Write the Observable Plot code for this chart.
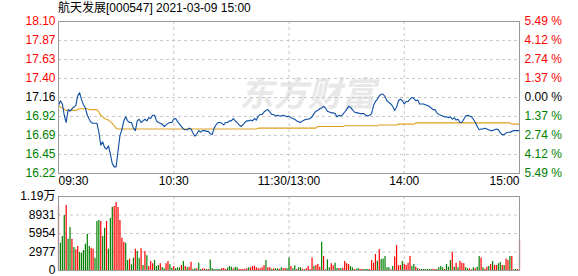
<!DOCTYPE html>
<html><head><meta charset="utf-8">
<script src="https://cdn.jsdelivr.net/npm/d3@7"></script>
<script src="https://cdn.jsdelivr.net/npm/@observablehq/plot@0.6"></script>
<style>
body{margin:0;background:#fff;width:578px;height:276px;overflow:hidden;font-family:"Liberation Sans",Arial,sans-serif}
#title{height:14px;line-height:16px;font-size:12px;padding-left:58px;font-family:"Liberation Sans","Noto Sans CJK SC",sans-serif;color:#000;white-space:pre}
svg{display:block}
</style></head><body>
<div id="title">航天发展[000547] 2021-03-09 15:00</div>
<div id="chart"></div>
<script>
const stockTitle = "航天发展[000547] 2021-03-09 15:00";
const preClose = 17.16;
const xTickLabels = ["09:30","10:30","11:30/13:00","14:00","15:00"];
const xTickMinutes = [0,60,120,180,240];
const pctTicks = [5.49,4.12,2.74,1.37,0,-1.37,-2.74,-4.12,-5.49];
const priceTickLabels = ["18.10","17.87","17.63","17.40","17.16","16.92","16.69","16.45","16.22"];
const pctTickLabels = ["5.49 %","4.12 %","2.74 %","1.37 %","0.00 %","1.37 %","2.74 %","4.12 %","5.49 %"];
const volTicks = [0,2977,5954,8931,11908];
const volTickLabels = ["0","2977","5954","8931","1.19万"];
const watermark = "东方财富";

// minute-by-minute last price (241 minutes, 09:30 .. 15:00)
const price = [
17.06,17.12,17.08,16.94,16.85,17.01,16.99,17.02,17.04,17.06,
17.18,17.22,17.13,17.07,17.03,16.94,16.89,16.85,16.84,16.84,
16.84,16.73,16.57,16.61,16.54,16.52,16.56,16.46,16.34,16.30,
16.30,16.50,16.69,16.76,16.87,16.92,16.87,16.85,16.85,16.78,
16.75,16.87,16.89,16.85,16.87,16.89,16.87,16.91,16.90,16.94,
16.94,16.87,16.85,16.84,16.83,16.80,16.82,16.84,16.85,16.85,
16.89,16.90,16.86,16.83,16.80,16.77,16.76,16.76,16.78,16.77,
16.72,16.68,16.71,16.75,16.73,16.75,16.75,16.74,16.74,16.71,
16.70,16.78,16.82,16.85,16.85,16.84,16.82,16.85,16.85,16.87,
16.87,16.90,16.87,16.85,16.82,16.80,16.82,16.85,16.87,16.87,
16.88,16.87,16.90,16.88,16.93,16.95,16.95,16.98,17.00,17.01,
16.98,16.95,16.95,16.93,16.94,16.93,16.93,16.94,16.93,16.92,
16.93,16.91,16.90,16.89,16.87,16.86,16.85,16.87,16.88,16.89,
16.89,16.90,16.92,16.96,16.99,17.00,17.02,17.03,17.05,17.03,
16.99,16.98,16.97,16.97,16.96,16.92,16.94,16.93,16.95,16.98,
17.01,17.05,17.04,17.01,16.98,16.97,16.97,16.96,16.96,16.96,
16.94,16.93,16.94,16.96,17.06,17.11,17.14,17.18,17.20,17.20,
17.17,17.12,17.10,17.08,17.05,17.00,17.04,17.12,17.14,17.12,
17.08,17.11,17.11,17.14,17.16,17.15,17.12,17.13,17.08,17.08,
17.08,17.07,17.06,17.05,17.03,17.01,17.01,16.97,16.95,16.94,
16.93,16.92,16.92,16.91,16.92,16.89,16.91,16.88,16.89,16.85,
16.85,16.89,16.93,16.94,16.93,16.92,16.89,16.85,16.80,16.76,
16.77,16.77,16.78,16.77,16.76,16.75,16.75,16.76,16.77,16.76,
16.72,16.70,16.70,16.72,16.73,16.73,16.74,16.75,16.75,16.75,
16.75
];
// minute-by-minute average price
const avgPrice = [
17.06,17.04,17.03,17.01,17.00,17.00,17.00,17.00,17.00,17.00,
17.01,17.02,17.02,17.02,17.02,17.02,17.01,17.01,17.01,17.01,
17.01,16.98,16.94,16.92,16.90,16.89,16.88,16.86,16.84,16.81,
16.78,16.77,16.77,16.77,16.77,16.77,16.77,16.77,16.77,16.77,
16.77,16.77,16.77,16.77,16.77,16.77,16.77,16.77,16.77,16.77,
16.77,16.77,16.77,16.77,16.77,16.77,16.77,16.77,16.77,16.77,
16.77,16.77,16.77,16.77,16.77,16.77,16.77,16.77,16.77,16.77,
16.77,16.77,16.77,16.77,16.77,16.77,16.77,16.77,16.77,16.77,
16.77,16.77,16.77,16.77,16.77,16.77,16.77,16.77,16.77,16.77,
16.77,16.77,16.77,16.77,16.77,16.77,16.77,16.77,16.77,16.77,
16.77,16.77,16.77,16.77,16.78,16.78,16.78,16.78,16.78,16.78,
16.78,16.78,16.78,16.78,16.78,16.78,16.78,16.78,16.78,16.78,
16.78,16.78,16.78,16.78,16.78,16.78,16.78,16.78,16.78,16.78,
16.78,16.78,16.78,16.78,16.78,16.80,16.80,16.80,16.80,16.80,
16.80,16.80,16.80,16.80,16.80,16.80,16.80,16.80,16.80,16.81,
16.81,16.81,16.81,16.81,16.81,16.81,16.81,16.81,16.81,16.81,
16.81,16.81,16.81,16.81,16.81,16.81,16.81,16.82,16.82,16.82,
16.82,16.82,16.82,16.82,16.82,16.82,16.82,16.83,16.83,16.83,
16.83,16.83,16.83,16.83,16.83,16.83,16.845,16.845,16.845,16.845,
16.845,16.845,16.845,16.845,16.845,16.845,16.845,16.845,16.845,16.845,
16.845,16.845,16.845,16.845,16.845,16.845,16.845,16.845,16.845,16.845,
16.845,16.845,16.845,16.845,16.845,16.845,16.845,16.845,16.845,16.845,
16.845,16.845,16.845,16.845,16.845,16.845,16.845,16.845,16.845,16.845,
16.845,16.845,16.845,16.845,16.845,16.845,16.83,16.83,16.83,16.83,
16.83
];
// minute volume (lots)
const volume = [
10452,4395,5467,8844,10452,5038,6914,5038,3698,3323,
3859,2894,2787,3216,4234,5842,3859,3591,3430,1983,
7879,8040,7879,5467,6807,7879,3430,8415,10184,10291,
10934,10130,8040,5199,4556,4395,1608,1822,911,1983,
3430,3055,1983,3484,804,3055,2358,643,1447,1072,
1608,643,804,1072,482,268,1072,1447,911,375,
643,267,427,427,801,1442,641,427,534,1335,
160,267,267,1175,160,267,214,160,160,1709,
267,160,160,160,160,267,320,160,374,641,
534,267,534,427,160,160,160,214,267,427,
427,641,694,427,267,267,427,801,1602,427,
427,214,267,267,267,160,427,267,320,267,
2029,641,267,748,160,427,427,214,107,267,
641,160,2029,641,801,961,534,4539,2243,107,
1709,427,1068,748,1175,320,320,267,374,1442,
1068,961,641,427,160,160,320,160,160,160,
160,160,160,1602,1175,2563,1495,3364,1762,1869,
2243,427,427,107,641,2190,4005,748,801,1442,
961,801,1175,2243,641,961,534,267,160,160,
160,160,160,160,160,214,160,160,427,641,
427,160,961,534,1602,2937,534,1175,427,1495,
1175,1068,427,267,267,107,427,267,534,2243,
2029,427,214,534,641,961,1442,801,801,1068,
1282,801,801,1869,1602,2243,2243,107,160,160,
4913
];
// 1 = up minute (red), 0 = down minute (green)
const volUp = [
1,0,0,0,1,0,0,1,0,1,
1,0,0,0,0,0,0,1,1,0,
0,0,1,0,0,1,0,0,0,1,
1,1,1,1,1,0,0,1,0,0,
1,0,0,1,0,1,0,1,1,1,
0,0,0,1,0,0,1,1,0,0,
1,0,0,0,1,0,1,0,1,1,
0,0,1,0,0,1,1,0,1,0,
0,0,0,0,0,1,1,1,0,0,
0,1,0,0,1,1,1,1,1,0,
1,1,1,1,1,1,1,1,0,1,
1,0,1,0,0,1,0,1,1,0,
0,1,0,0,1,0,0,1,0,1,
1,1,1,0,1,1,1,0,1,0,
0,0,1,1,0,0,1,0,1,1,
1,1,0,0,1,0,0,1,1,0,
0,0,1,1,1,1,0,1,0,0,
0,0,0,1,0,1,1,1,1,0,
1,1,1,1,0,0,1,0,1,0,
0,0,0,0,0,1,1,0,0,0,
0,1,0,0,0,1,0,1,0,1,
1,1,0,0,1,1,0,1,0,0,
1,0,1,1,0,1,0,1,1,0,
0,1,0,1,1,0,1,0,0,1,
1
];

const rows = price.map((p, i) => ({m: i, price: p, avg: avgPrice[i], vol: volume[i], up: volUp[i] === 1}));
const yTicks = pctTicks.map((p, i) => ({pos: preClose * (1 + p / 100), pct: p, left: priceTickLabels[i], right: pctTickLabels[i]}));
const xTicks = xTickMinutes.map((m, i) => ({m, label: xTickLabels[i]}));
const vTicks = volTicks.map((v, i) => ({v, label: volTickLabels[i]}));

const FONT = "'Liberation Sans', Arial, sans-serif";
const RED = "#ff0000", GREEN = "#008000", BLACK = "#000000";
const GRID = {stroke: "#c8c8c8", strokeDasharray: "3,3", strokeWidth: 1};
const labelOpts = {fontSize: 12, fontFamily: FONT};

function sideLabels(ticks, yKey) {
  const groups = [
    [ticks.filter(d => d.pct > 0), RED],
    [ticks.filter(d => d.pct === 0), BLACK],
    [ticks.filter(d => d.pct < 0), GREEN]
  ];
  const marks = [];
  for (const [data, color] of groups) {
    marks.push(Plot.text(data, {y: yKey, text: "left", frameAnchor: "left", textAnchor: "end", dx: -3, fill: color, ...labelOpts}));
    marks.push(Plot.text(data, {y: yKey, text: "right", frameAnchor: "right", textAnchor: "start", dx: 5, fill: color, ...labelOpts}));
  }
  return marks;
}

const pricePlot = Plot.plot({
  width: 578, height: 176,
  marginTop: 7, marginBottom: 17, marginLeft: 58, marginRight: 59,
  x: {domain: [0, 240], axis: null},
  y: {domain: [preClose * (1 - 0.0549), preClose * (1 + 0.0549)], axis: null},
  style: {background: "#fff", overflow: "visible"},
  marks: [
    Plot.text([watermark], {frameAnchor: "top-left", dx: 181, dy: 74, text: d => d, textAnchor: "start", lineAnchor: "middle",
      fontSize: 34, fontWeight: "bold", fontStyle: "italic", fill: "#e8e8e8", fontFamily: "'Noto Sans CJK SC', sans-serif"}),
    Plot.ruleY(yTicks.slice(1, -1), {y: "pos", ...GRID}),
    Plot.ruleX(xTicks.slice(1, -1), {x: "m", ...GRID}),
    Plot.line(rows, {x: "m", y: "avg", stroke: "#e0a020", strokeWidth: 1.1}),
    Plot.line(rows, {x: "m", y: "price", stroke: "#0b4ea2", strokeWidth: 1.1}),
    Plot.frame({stroke: "#999"}),
    ...sideLabels(yTicks, "pos"),
    Plot.text(xTicks.slice(0, 1), {x: "m", text: "label", frameAnchor: "bottom", dy: 11, textAnchor: "start", fill: BLACK, ...labelOpts}),
    Plot.text(xTicks.slice(1, -1), {x: "m", text: "label", frameAnchor: "bottom", dy: 11, textAnchor: "middle", fill: BLACK, ...labelOpts}),
    Plot.text(xTicks.slice(-1), {x: "m", text: "label", frameAnchor: "bottom", dy: 11, textAnchor: "end", fill: BLACK, ...labelOpts})
  ]
});

const volPlot = Plot.plot({
  width: 578, height: 86,
  marginTop: 6, marginBottom: 6, marginLeft: 58, marginRight: 59,
  x: {domain: [0, 240], axis: null},
  y: {domain: [0, 11908], axis: null},
  style: {background: "#fff", overflow: "visible"},
  marks: [
    Plot.ruleY(vTicks.slice(1, -1), {y: "v", ...GRID}),
    Plot.ruleX(xTicks.slice(1, -1), {x: "m", ...GRID}),
    Plot.ruleX(rows.filter(d => d.up), {x: "m", y: "vol", stroke: RED, strokeWidth: 1.2}),
    Plot.ruleX(rows.filter(d => !d.up), {x: "m", y: "vol", stroke: GREEN, strokeWidth: 1.2}),
    Plot.frame({stroke: "#999"}),
    Plot.text(vTicks, {y: "v", text: "label", frameAnchor: "left", textAnchor: "end", dx: -3, fill: BLACK, fontSize: 12, fontFamily: "'Liberation Sans', 'Noto Sans CJK SC', sans-serif"})
  ]
});

document.getElementById("title").textContent = stockTitle;
const chart = document.getElementById("chart");
chart.appendChild(pricePlot);
chart.appendChild(volPlot);
</script>
</body></html>
